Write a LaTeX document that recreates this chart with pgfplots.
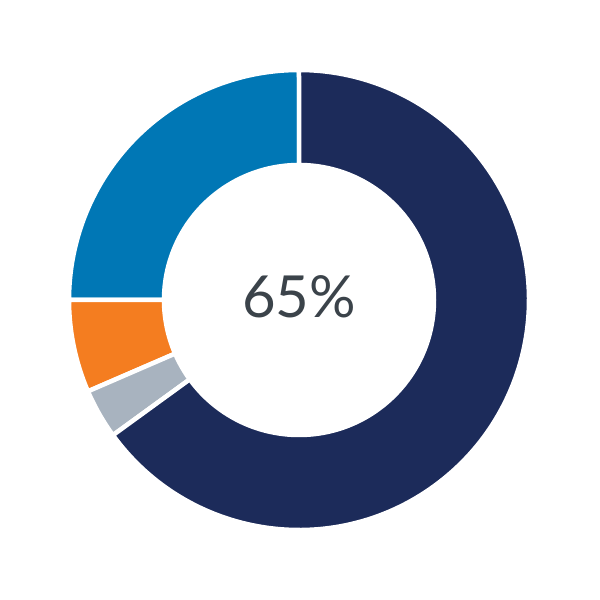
\documentclass[border=0pt]{standalone}
\usepackage{pgfplots}
\pgfplotsset{compat=1.18}
\usepackage{fontspec}
\setmainfont{Lato}
\definecolor{cnavy}{HTML}{1C2B5A}
\definecolor{cblue}{HTML}{0077B5}
\definecolor{corange}{HTML}{F47D20}
\definecolor{cgray}{HTML}{A8B3BF}
\definecolor{ctext}{HTML}{3B434A}
% cumulative shares (percent), counter-clockwise from the top
\newcommand\seg[3]{%
  \fill[#3, draw=white, line width=4.5pt]
    (axis cs:{230*cos(90+3.6*#1)},{230*sin(90+3.6*#1)})
    arc[start angle={90+3.6*#1}, end angle={90+3.6*#2}, radius=230pt]
    -- (axis cs:{135*cos(90+3.6*#2)},{135*sin(90+3.6*#2)})
    arc[start angle={90+3.6*#2}, end angle={90+3.6*#1}, radius=135pt]
    -- cycle;}
\begin{document}
\begin{tikzpicture}
\begin{axis}[
  scale only axis, width=600pt, height=600pt,
  xmin=-299, xmax=301, ymin=-300, ymax=300,
  hide axis, clip=false]
\addplot[draw=none] coordinates {(-299,-300) (301,300)};
\seg{0}{25}{cblue}
\seg{25}{31.5}{corange}
\seg{31.5}{35}{cgray}
\seg{35}{100}{cnavy}
\node[text=ctext, font=\fontsize{58}{60}\selectfont] at (axis cs:0,3) {65\%};
\end{axis}
\end{tikzpicture}
\end{document}
